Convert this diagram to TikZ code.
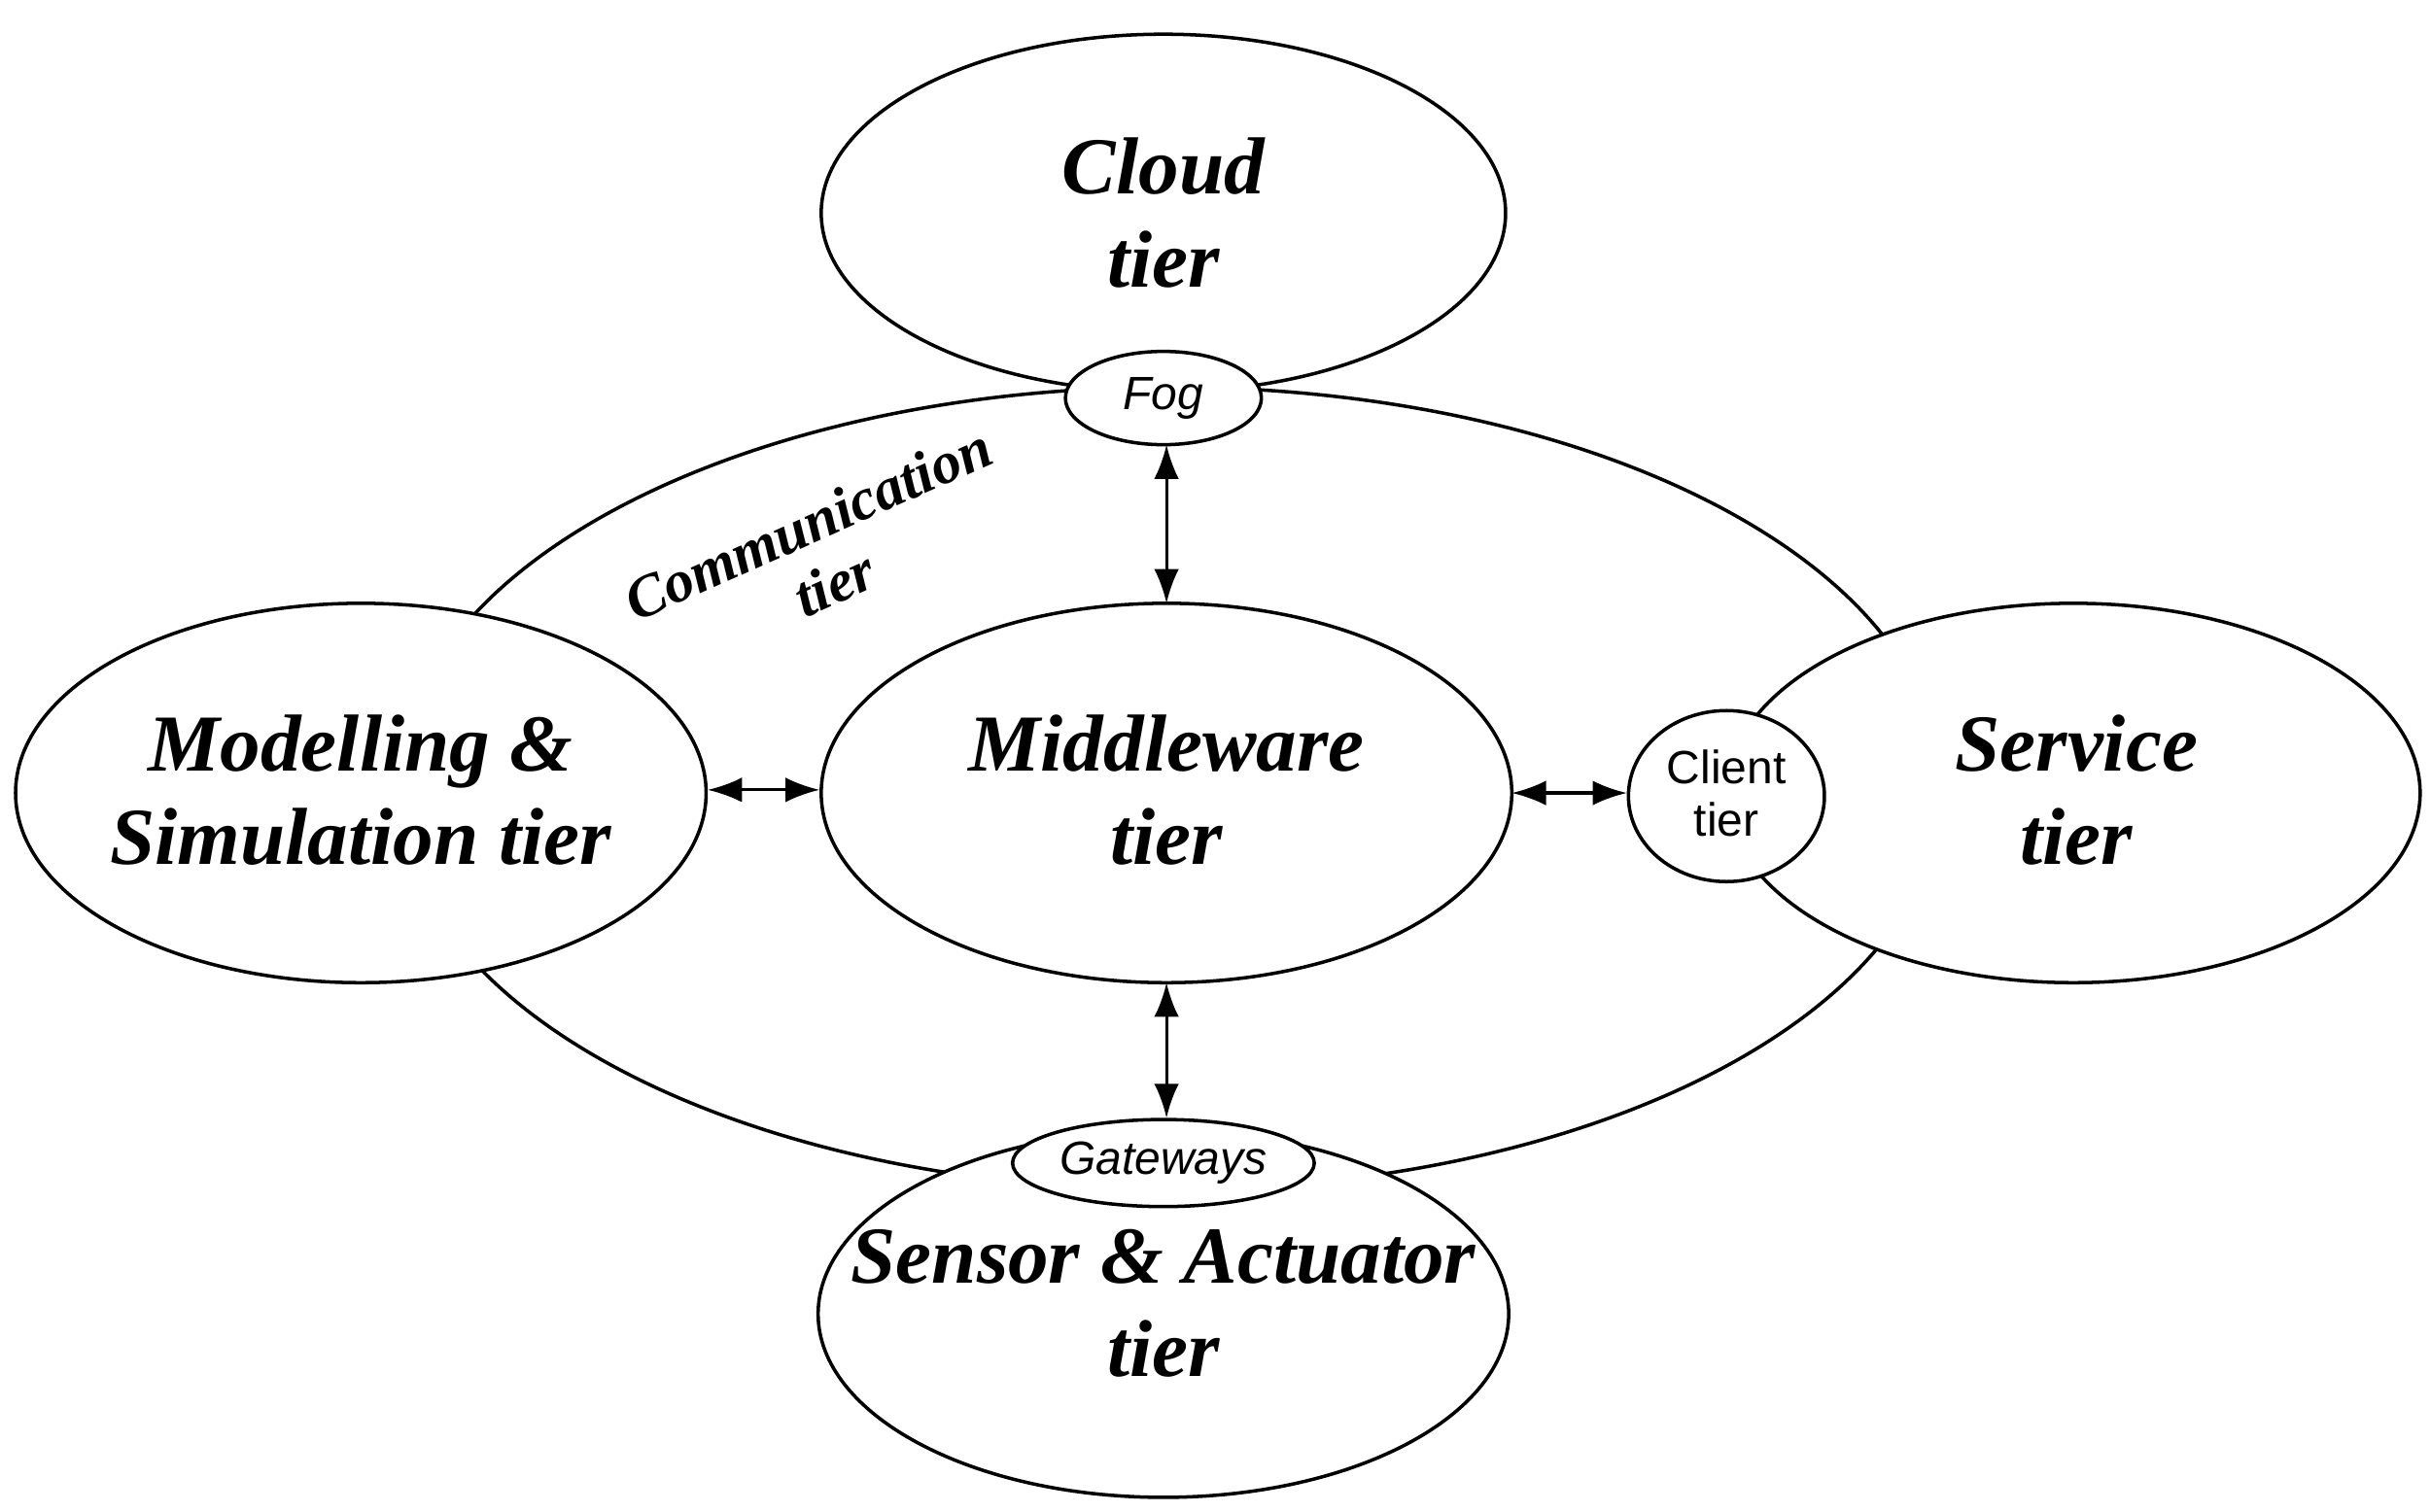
\documentclass[tikz,border=0pt]{standalone}
\usepackage{fontspec}
\setmainfont{Liberation Serif}
\newfontfamily\sans{Liberation Sans}
\usetikzlibrary{arrows.meta}
\begin{document}
\begin{tikzpicture}[x=0.5pt,y=-0.5pt,
  tier/.style={draw,line width=1.1pt,fill=white},
  big/.style={font=\fontsize{26}{30}\selectfont\bfseries\itshape,align=center},
  small/.style={font=\sans\fontsize{15}{17}\selectfont,align=center},
  arr/.style={line width=1pt,{Latex[length=11pt,width=8pt]}-{Latex[length=11pt,width=8pt]}}]
\useasboundingbox (0,0) rectangle (1563,972);
\draw[line width=1.1pt] (752,507) ellipse [x radius=496,y radius=258];
\draw[tier] (748,137) ellipse [x radius=220,y radius=115];
\node[big] (cloud) at (748,137) {Cloud\\tier};
\draw[tier] (748,256) ellipse [x radius=63,y radius=30];
\node[small,font=\sans\itshape\fontsize{15}{17}\selectfont] (fog) at (748,256) {Fog};
\draw[tier] (750,510) ellipse [x radius=222,y radius=122];
\node[big] (mid) at (750,508) {Middleware\\tier};
\draw[tier] (232,510) ellipse [x radius=222,y radius=122];
\node[big] (mod) at (232,508) {Modelling \&\\Simulation tier};
\draw[tier] (1333,510) ellipse [x radius=223,y radius=122];
\node[big] (ser) at (1335,508) {Service\\tier};
\draw[tier] (1110,512) ellipse [x radius=63,y radius=55];
\node[small] (cli) at (1110,510) {Client\\tier};
\draw[tier] (748,845) ellipse [x radius=222,y radius=118];
\node[big] (sen) at (748,838) {Sensor \& Actuator\\tier};
\draw[tier] (748,748) ellipse [x radius=97,y radius=28];
\node[small,font=\sans\itshape\fontsize{15}{17}\selectfont] (gw) at (748,748) {Gateways};
\node[font=\fontsize{19}{21}\selectfont\bfseries\itshape,rotate=24,align=center] (comm) at (528,356) {Communication\\tier};
\coordinate (f1) at (750,286); \coordinate (f2) at (750,388);
\coordinate (g1) at (750,632); \coordinate (g2) at (750,719);
\coordinate (l1) at (455,508); \coordinate (l2) at (527,508);
\coordinate (r1) at (972,510); \coordinate (r2) at (1046,510);
\draw[arr] (f1) -- (f2);
\draw[arr] (g1) -- (g2);
\draw[arr] (l1) -- (l2);
\draw[arr] (r1) -- (r2);
\end{tikzpicture}
\end{document}
